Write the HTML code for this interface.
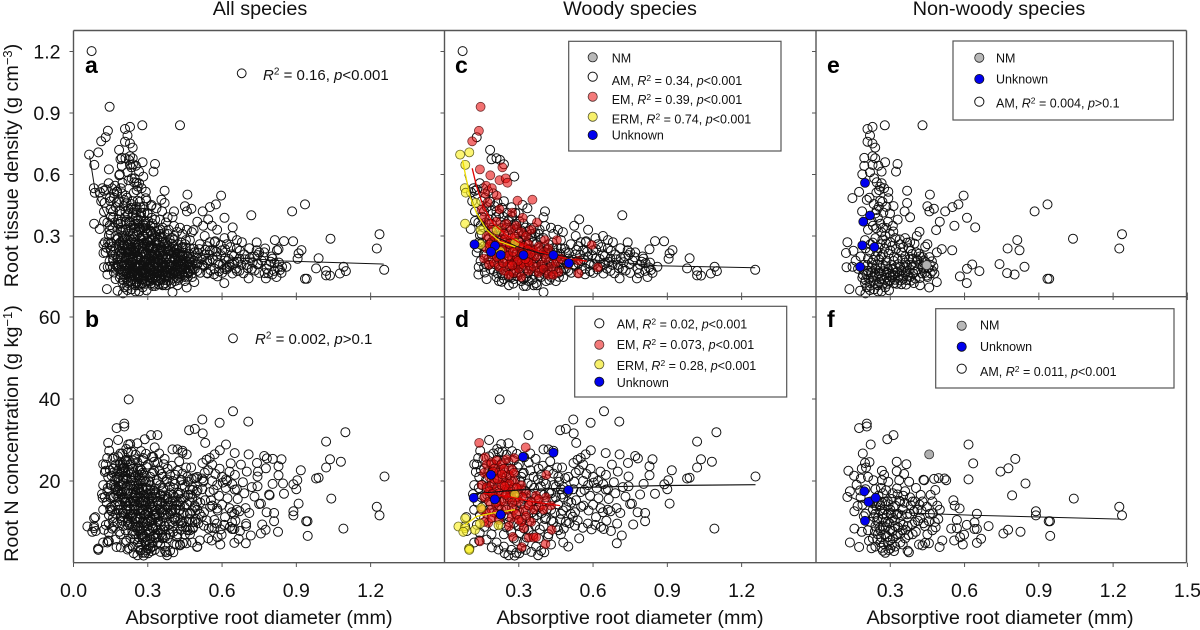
<!DOCTYPE html>
<html lang="en">
<head>
<meta charset="utf-8">
<title>Root traits versus absorptive root diameter</title>
<style>
html,body{margin:0;padding:0;background:#fff;width:1200px;height:630px;overflow:hidden}
svg{display:block}
text{font-family:"Liberation Sans",Arial,sans-serif;fill:#111}
.tick{font-size:19.5px}
.axis{font-size:19.8px}
.letter{font-size:23px;font-weight:bold;fill:#000}
.lg{font-size:12.5px}
.an{font-size:15px}
.i{font-style:italic}
</style>
</head>
<body>
<svg id="chart" xmlns="http://www.w3.org/2000/svg" width="1200" height="630" viewBox="0 0 1200 630">
  <g id="marks"></g>
  <g id="axes"></g>

  <text class="axis" x="260" y="15" text-anchor="middle">All species</text>
  <text class="axis" x="630" y="15" text-anchor="middle">Woody species</text>
  <text class="axis" x="999" y="15" text-anchor="middle">Non-woody species</text>

  <text class="axis" x="259" y="624" text-anchor="middle">Absorptive root diameter (mm)</text>
  <text class="axis" x="630" y="624" text-anchor="middle">Absorptive root diameter (mm)</text>
  <text class="axis" x="1000" y="624" text-anchor="middle">Absorptive root diameter (mm)</text>

  <text class="axis" transform="translate(18,165.5) rotate(-90)" text-anchor="middle">Root tissue density (g cm<tspan dy="-6" font-size="13">−3</tspan><tspan dy="6">)</tspan></text>
  <text class="axis" transform="translate(18,433.5) rotate(-90)" text-anchor="middle">Root N concentration (g kg<tspan dy="-6" font-size="13">−1</tspan><tspan dy="6">)</tspan></text>

  <text class="letter" x="85" y="73">a</text>
  <text class="letter" x="85" y="327">b</text>
  <text class="letter" x="455" y="73">c</text>
  <text class="letter" x="455" y="327">d</text>
  <text class="letter" x="827" y="73">e</text>
  <text class="letter" x="827" y="327">f</text>

  <g>
    <circle cx="241.7" cy="73.3" r="4.4" fill="none" stroke="#111" stroke-width="1"/>
    <text class="an" x="263" y="80"><tspan class="i">R</tspan><tspan dy="-5.5" font-size="10">2</tspan><tspan dy="5.5"> = 0.16, </tspan><tspan class="i">p</tspan>&lt;0.001</text>
  </g>
  <g>
    <circle cx="233" cy="338.3" r="4.4" fill="none" stroke="#111" stroke-width="1"/>
    <text class="an" x="255" y="344"><tspan class="i">R</tspan><tspan dy="-5.5" font-size="10">2</tspan><tspan dy="5.5"> = 0.002, </tspan><tspan class="i">p</tspan>&gt;0.1</text>
  </g>

  <g>
    <rect x="568.7" y="41.3" width="212.3" height="109.7" fill="#fff" stroke="#555" stroke-width="1.2"/>
    <circle cx="592.7" cy="57.3" r="4.6" fill="#b8b8b8" stroke="#222" stroke-width="0.8"/>
    <text class="lg" x="611.7" y="62.5">NM</text>
    <circle cx="592.7" cy="76.7" r="4.6" fill="#fff" stroke="#111" stroke-width="1"/>
    <text class="lg" x="611.7" y="85">AM, <tspan class="i">R</tspan><tspan dy="-4" font-size="8.5">2</tspan><tspan dy="4"> = 0.34, </tspan><tspan class="i">p</tspan>&lt;0.001</text>
    <circle cx="592.7" cy="96.7" r="4.6" fill="#f47a7a" stroke="#533" stroke-width="0.8"/>
    <text class="lg" x="611.7" y="104">EM, <tspan class="i">R</tspan><tspan dy="-4" font-size="8.5">2</tspan><tspan dy="4"> = 0.39, </tspan><tspan class="i">p</tspan>&lt;0.001</text>
    <circle cx="592.7" cy="116.7" r="4.6" fill="#f7f06a" stroke="#553" stroke-width="0.8"/>
    <text class="lg" x="611.7" y="123.5">ERM, <tspan class="i">R</tspan><tspan dy="-4" font-size="8.5">2</tspan><tspan dy="4"> = 0.74, </tspan><tspan class="i">p</tspan>&lt;0.001</text>
    <circle cx="592.7" cy="135" r="4.6" fill="#0000ee" stroke="#111" stroke-width="0.8"/>
    <text class="lg" x="611.7" y="139.5">Unknown</text>
  </g>

  <g>
    <rect x="953" y="41" width="220.3" height="79" fill="#fff" stroke="#555" stroke-width="1.2"/>
    <circle cx="979.3" cy="57.7" r="4.6" fill="#b8b8b8" stroke="#222" stroke-width="0.8"/>
    <text class="lg" x="996" y="62.5">NM</text>
    <circle cx="979.3" cy="79" r="4.6" fill="#0000ee" stroke="#111" stroke-width="0.8"/>
    <text class="lg" x="996" y="83.5">Unknown</text>
    <circle cx="979.3" cy="101.7" r="4.6" fill="#fff" stroke="#111" stroke-width="1"/>
    <text class="lg" x="996" y="107.5">AM, <tspan class="i">R</tspan><tspan dy="-4" font-size="8.5">2</tspan><tspan dy="4"> = 0.004, </tspan><tspan class="i">p</tspan>&gt;0.1</text>
  </g>

  <g>
    <rect x="574.7" y="306.3" width="212" height="90.7" fill="#fff" stroke="#555" stroke-width="1.2"/>
    <circle cx="599.3" cy="323.3" r="4.6" fill="#fff" stroke="#111" stroke-width="1"/>
    <text class="lg" x="616.7" y="328.5">AM, <tspan class="i">R</tspan><tspan dy="-4" font-size="8.5">2</tspan><tspan dy="4"> = 0.02, </tspan><tspan class="i">p</tspan>&lt;0.001</text>
    <circle cx="599.3" cy="344.7" r="4.6" fill="#f47a7a" stroke="#533" stroke-width="0.8"/>
    <text class="lg" x="616.7" y="349">EM, <tspan class="i">R</tspan><tspan dy="-4" font-size="8.5">2</tspan><tspan dy="4"> = 0.073, </tspan><tspan class="i">p</tspan>&lt;0.001</text>
    <circle cx="599.3" cy="364.3" r="4.6" fill="#f7f06a" stroke="#553" stroke-width="0.8"/>
    <text class="lg" x="616.7" y="370">ERM, <tspan class="i">R</tspan><tspan dy="-4" font-size="8.5">2</tspan><tspan dy="4"> = 0.28, </tspan><tspan class="i">p</tspan>&lt;0.001</text>
    <circle cx="599.3" cy="381.7" r="4.6" fill="#0000ee" stroke="#111" stroke-width="0.8"/>
    <text class="lg" x="616.7" y="387">Unknown</text>
  </g>

  <g>
    <rect x="935.7" y="308.7" width="238.3" height="79.3" fill="#fff" stroke="#555" stroke-width="1.2"/>
    <circle cx="961.7" cy="325.7" r="4.6" fill="#b8b8b8" stroke="#222" stroke-width="0.8"/>
    <text class="lg" x="980" y="329.5">NM</text>
    <circle cx="961.7" cy="346.7" r="4.6" fill="#0000ee" stroke="#111" stroke-width="0.8"/>
    <text class="lg" x="980" y="351">Unknown</text>
    <circle cx="961.7" cy="368.7" r="4.6" fill="#fff" stroke="#111" stroke-width="1"/>
    <text class="lg" x="980" y="376">AM, <tspan class="i">R</tspan><tspan dy="-4" font-size="8.5">2</tspan><tspan dy="4"> = 0.011, </tspan><tspan class="i">p</tspan>&lt;0.001</text>
  </g>
</svg>

<script>
// Tick labels
const xTickLabelsLeft = ["0.0","0.3","0.6","0.9","1.2"];
const xTickLabelsMiddle = ["0.3","0.6","0.9","1.2"];
const xTickLabelsRight = ["0.3","0.6","0.9","1.2","1.5"];
const densityTicks = ["0.3","0.6","0.9","1.2"];
const nitrogenTicks = ["20","40","60"];

// Root tissue density (diameter mm, g cm-3)
const woodyAmDensity = [[.073,1.202],[.13,.782],[.184,.72],[.19,.674],[.21,.679],[.224,.671],[.24,.65],[.282,.59],[.117,.533],[.123,.521],[.315,.451],[.335,.435],[.406,.42],[.4,.391],[.544,.381],[.524,.35],[.718,.401],[.123,.373],[.123,.419],[.106,.334],[.406,.349],[.43,.34],[.458,.33],[.478,.319],[.64,.3],[.74,.269],[.572,.274],[.85,.275],[.887,.274],[.828,.235],[.921,.231],[.909,.215],[.99,.191],[.905,.189],[1.255,.135],[1.091,.15],[1.1,.129],[1.076,.117],[1.02,.13],[1.02,.108],[1.036,.107],[.98,.142],[.86,.15],[.834,.134],[.797,.174],[.804,.19],[.75,.219],[.743,.207],[.777,.093],[.707,.093],[.642,.117],[.137,.112],[.17,.09],[.231,.077],[.278,.068],[.32,.056],[.33,.056],[.373,.06],[.4,.026],
[.46,.2],[.47,.24],[.48,.17],[.49,.22],[.5,.13],[.5,.19],[.51,.26],[.52,.16],[.53,.21],[.54,.12],[.54,.25],[.55,.18],[.56,.23],[.57,.14],[.57,.27],[.58,.2],[.59,.16],[.6,.23],[.6,.12],[.61,.19],[.62,.26],[.63,.15],[.64,.21],[.65,.17],[.66,.24],[.67,.13],[.67,.19],[.68,.27],[.69,.21],[.7,.16],[.71,.24],[.72,.14],[.73,.2],[.74,.23],[.75,.12],[.76,.18],[.77,.22],[.78,.14],[.79,.16],[.8,.2],[.81,.13],[.82,.1],[.83,.17],[.84,.12],
[.15,.31],[.16,.25],[.17,.21],[.18,.29],[.18,.16],[.19,.36],[.19,.19],[.2,.13],[.2,.27],[.21,.1],[.21,.22],[.22,.32],[.22,.16],[.23,.12],[.23,.26],[.24,.09],[.24,.19],[.25,.15],[.25,.34],[.26,.1],[.26,.23],[.27,.13],[.27,.29],[.28,.17],[.28,.09],[.29,.21],[.29,.12],[.3,.15],[.3,.31],[.31,.08],[.31,.19],[.32,.24],[.32,.13],[.33,.1],[.33,.17],[.34,.28],[.34,.08],[.35,.14],[.35,.21],[.36,.11],[.36,.34],[.37,.17],[.37,.07],[.38,.24],[.38,.13],[.39,.1],[.39,.19],[.4,.15],[.4,.29],[.41,.08],[.41,.21],[.42,.13],[.42,.26],[.43,.1],[.43,.18],[.44,.24],[.44,.14],[.45,.08],[.45,.19],[.46,.12],[.47,.16],[.48,.1],[.49,.14],[.36,.27],[.38,.31],[.33,.32],[.29,.36],[.26,.38],[.31,.28],[.24,.31],[.2,.33],[.18,.38],[.16,.42],[.21,.42],[.27,.44],[.24,.47],[.3,.41],[.35,.38],[.44,.31],[.47,.28],[.53,.3],[.58,.33],[.55,.27],[.61,.29],[.66,.28],[.15,.47],[.14,.27],[.13,.22],[.16,.15],[.22,.22],[.26,.2],[.3,.25],[.34,.2],[.28,.13],[.32,.09],[.36,.06],[.26,.06],[.22,.08],[.24,.23],[.19,.27],[.35,.31],[.29,.17],[.41,.12],[.39,.23],[.43,.22]];

const woodyAmDensityCore = [[.163,.122],[.174,.283],[.177,.187],[.183,.233],[.186,.137],[.193,.318],[.196,.212],[.204,.162],[.207,.255],[.213,.298],[.214,.118],[.218,.187],[.226,.139],[.228,.232],[.231,.284],[.234,.172],[.237,.108],[.243,.214],[.246,.267],[.248,.132],[.253,.186],[.257,.308],[.262,.152],[.264,.243],[.268,.097],[.272,.199],[.275,.262],[.278,.118],[.283,.224],[.287,.157],[.289,.328],[.293,.103],[.296,.186],[.298,.278],[.303,.123],[.306,.216],[.309,.164],[.313,.254],[.317,.093],[.319,.307],[.323,.176],[.327,.143],[.329,.223],[.334,.266],[.337,.117],[.341,.188],[.344,.154],[.348,.293],[.352,.236],[.354,.087],[.358,.167],[.362,.203],[.366,.128],[.369,.259],[.373,.148],[.377,.192],[.382,.106],[.385,.226],[.388,.283],[.392,.137],[.396,.171],[.402,.247],[.404,.112],[.408,.197],[.413,.156],[.416,.232],[.421,.174],[.424,.086],[.428,.213],[.432,.127],[.436,.268],[.441,.166],[.445,.219],[.449,.137],[.454,.243],[.458,.173],[.462,.101],[.466,.213],[.471,.128],[.476,.187],[.482,.141],[.486,.238],[.494,.167],[.503,.216],[.512,.121],[.518,.184],[.527,.153],[.533,.232],[.541,.167],[.548,.209],[.553,.134],[.562,.186],[.568,.113],[.576,.223],[.583,.167],[.588,.128],[.596,.207],[.604,.161],[.612,.236],[.618,.137],[.627,.188],[.634,.246],[.642,.163],[.648,.202],[.656,.141],[.663,.174],[.672,.228],[.678,.159],[.686,.118],[.692,.186],[.704,.143],[.712,.192],[.723,.172],[.732,.131],[.746,.163],[.768,.196],[.786,.118],[.812,.168],[.826,.147],
[.107,.513],[.112,.47],[.131,.527],[.142,.557],[.156,.532],[.163,.487],[.171,.441],[.176,.518],[.184,.467],[.189,.423],[.197,.508],[.202,.446],[.208,.392],[.214,.463],[.221,.407],[.227,.368],[.232,.437],[.238,.393],[.244,.357],[.252,.414],[.258,.372],[.266,.341],[.274,.393],[.281,.357],[.286,.413],[.294,.338],[.302,.372],[.311,.327],[.318,.361],[.326,.341],[.342,.327],[.353,.297],[.367,.314],[.384,.331],[.137,.366],[.147,.352],[.151,.393],[.158,.341],[.166,.366],[.143,.304],[.152,.268],[.134,.243],[.159,.208],[.146,.178],[.138,.149],[.168,.161]];

const woodyEmDensity = [[.146,.93],[.139,.813],[.112,.762],[.143,.625],[.234,.635],[.185,.596],[.222,.572],[.247,.581],[.254,.56],[.168,.545],[.191,.533],[.164,.508],[.211,.497],[.295,.472],[.355,.477],[.175,.464],[.222,.43],[.273,.414],[.316,.389],[.373,.366],[.595,.256],[.619,.147],[.541,.117],[.46,.125],[.406,.28],[.454,.28],
[.15,.43],[.16,.39],[.18,.36],[.19,.33],[.21,.37],[.23,.34],[.25,.36],[.27,.33],[.29,.35],[.31,.32],[.33,.3],[.35,.33],[.17,.3],[.19,.27],[.2,.3],[.22,.28],[.24,.31],[.25,.26],[.27,.29],[.28,.25],[.3,.27],[.32,.25],[.34,.26],[.36,.23],[.38,.25],[.4,.22],[.42,.24],[.44,.2],[.17,.24],[.19,.21],[.21,.23],[.23,.2],[.25,.22],[.27,.18],[.29,.2],[.31,.17],[.33,.21],[.35,.18],[.37,.2],[.39,.16],[.41,.19],[.43,.15],[.45,.17],[.47,.19],[.5,.16],[.54,.18],[.16,.19],[.18,.16],[.2,.17],[.22,.15],[.24,.13],[.26,.16],[.28,.12],[.3,.14],[.32,.16],[.34,.13],[.36,.15],[.38,.12],[.4,.14],[.42,.11],[.26,.11],[.31,.1],[.34,.17],[.44,.11],
[.243,.283],[.262,.262],[.283,.297],[.304,.243],[.336,.234],[.218,.256],[.233,.232],[.258,.204],[.277,.223],[.297,.178],[.314,.214],[.327,.187],[.347,.214],[.273,.156],[.237,.168],[.213,.197],[.182,.258]];

const woodyErmDensity = [[.063,.697],[.1,.708],[.084,.647],[.082,.533],[.086,.511],[.126,.462],[.083,.36],[.146,.329],[.211,.329],[.146,.259],[.285,.267],[.225,.226]];
const woodyUnknownDensity = [[.121,.259],[.204,.252],[.188,.223],[.227,.208],[.319,.207],[.44,.207],[.502,.168]];

const nonWoodyAmDensity = [[.278,.84],[.43,.84],[.208,.822],[.228,.832],[.218,.79],[.208,.76],[.228,.751],[.239,.731],[.195,.681],[.228,.689],[.239,.679],[.279,.66],[.329,.651],[.195,.642],[.228,.647],[.252,.643],[.218,.611],[.265,.614],[.323,.614],[.187,.601],[.235,.581],[.245,.562],[.265,.557],[.259,.541],[.275,.533],[.255,.524],[.292,.516],[.368,.521],[.46,.502],[.596,.497],[.147,.485],[.174,.515],[.216,.487],[.205,.476],[.259,.472],[.292,.484],[.313,.446],[.368,.461],[.45,.445],[.575,.454],[.551,.441],[.522,.42],[.476,.433],[.458,.42],[.358,.42],[.186,.42],[.245,.427],[.272,.414],[.299,.41],[.38,.391],[.61,.389],[.5,.37],[.559,.35],[.643,.342],[.485,.329],[.935,.454],[.883,.42],[1.236,.309],[1.038,.287],[.813,.28],[.774,.239],[.822,.23],[1.225,.239],[.55,.23],[.508,.236],[.488,.22],[.45,.26],[.441,.248],[.418,.321],[.407,.3],[.127,.27],[.198,.28],[.121,.217],[.151,.228],[.123,.148],[.148,.15],[.741,.163],[.842,.15],[.631,.161],[.61,.14],[.66,.129],[.581,.103],[.609,.07],[.772,.119],[.802,.112],[.935,.091],[.942,.091],[.488,.075],[.457,.049],[.42,.06],[.135,.041],[.178,.033],[.218,.036],
[.19,.11],[.2,.085],[.21,.13],[.22,.07],[.23,.1],[.24,.14],[.25,.06],[.255,.115],[.26,.09],[.27,.16],[.28,.05],[.285,.12],[.29,.08],[.3,.105],[.31,.14],[.315,.07],[.32,.12],[.33,.095],[.34,.15],[.345,.065],[.35,.11],[.36,.17],[.365,.085],[.37,.13],[.38,.1],[.385,.16],[.395,.07],[.4,.125],[.41,.18],[.42,.095],[.43,.15],[.44,.12],[.45,.1],[.46,.16],[.47,.13],[.225,.17],[.24,.2],[.255,.185],[.27,.21],[.285,.18],[.3,.23],[.315,.2],[.33,.19],[.345,.22],[.36,.2],[.375,.24],[.39,.19],[.405,.22],[.42,.2],[.435,.18],[.21,.19],[.195,.16],[.18,.2],[.17,.14],[.16,.18],[.2,.24],[.22,.26],[.24,.29],[.26,.26],[.28,.3],[.3,.27],[.32,.29],[.34,.26],[.36,.29],[.38,.27],[.27,.34],[.29,.37],[.31,.35],[.33,.38],[.25,.39],[.23,.35],[.21,.33],[.24,.41],[.26,.36],[.205,.05],[.235,.04],[.265,.03],[.295,.035],[.25,.03],[.2,.02]];

const nonWoodyAmDensityCore = [[.187,.097],[.193,.132],[.198,.072],[.204,.113],[.208,.158],[.214,.092],[.217,.057],[.223,.123],[.226,.147],[.232,.082],[.236,.117],[.241,.068],[.243,.103],[.247,.162],[.252,.129],[.257,.077],[.261,.143],[.264,.108],[.268,.063],[.273,.128],[.276,.087],[.281,.152],[.284,.098],[.288,.067],[.292,.137],[.296,.117],[.299,.083],[.304,.158],[.307,.097],[.311,.112],[.314,.178],[.318,.087],[.322,.148],[.326,.067],[.329,.127],[.333,.162],[.337,.107],[.342,.083],[.346,.132],[.349,.187],[.353,.092],[.357,.147],[.361,.123],[.364,.063],[.368,.158],[.372,.107],[.376,.187],[.379,.137],[.383,.082],[.388,.212],[.392,.117],[.397,.157],[.402,.092],[.407,.186],[.412,.137],[.416,.213],[.422,.163],[.427,.118],[.431,.197],[.437,.142],[.442,.173],[.447,.107],[.453,.143],[.458,.197],[.463,.118],[.468,.176],[.474,.151],[.478,.117],[.232,.183],[.247,.223],[.263,.197],[.277,.238],[.293,.213],[.308,.251],[.323,.236],[.338,.283],[.352,.246],[.368,.268],[.383,.228],[.398,.263],[.218,.223],[.229,.268],[.253,.243],[.268,.283],[.283,.263],[.264,.318],[.283,.339],[.298,.312],[.312,.322],[.243,.338],[.225,.371],[.254,.443],[.244,.512],[.268,.467],[.284,.442],[.233,.456]];

// Root N concentration (diameter mm, g kg-1)
const woodyAmNitrogen = [[.223,39.9],[.18,30],[.144,27.4],[.229,29],[.258,29.2],[.339,31.2],[.52,35],[.467,32.4],[.49,32.7],[.522,31.6],[.532,29.3],[.59,34.2],[.644,37],[.706,34.5],[1.098,31.9],[1.02,29.6],[1.036,25.3],[1.08,24.7],[1.02,23.3],[1.256,21.1],[.98,20.6],[.99,20.8],[.918,22.6],[.904,20.2],[.888,19.2],[.9,18],[.85,16.9],[.909,14.5],[1.09,8.4],[.84,25.3],[.77,26.1],[.781,25.5],[.707,26.5],[.651,26.8],[.591,27.5],[.57,26.5],[.55,25.6],[.537,25.2],[.521,24.4],[.676,24],[.741,24.4],[.828,23.6],[.828,21.4],[.743,21.1],[.804,19.3],[.72,18.5],[.743,18.7],[.79,16.7],[.75,14.4],[.757,14.5],[.695,13.4],[.71,12.2],[.78,12.4],[.81,12.2],[.81,10.2],[.66,13],[.67,12.6],[.579,9.6],[.609,9.3],[.643,8.3],[.716,6.7],[.696,4.8],[.544,6],[.47,7],[.527,9.1],[.527,12.4],[.561,14],[.6,14.2],[.63,13.4],[.64,12.4],[.652,17.9],[.615,18.3],[.63,22.3],[.652,21.5],[.455,23.3],[.475,23.3],[.4,27.7],[.42,27.7],[.44,27.4],[.7,22.3],[.6,21],[.56,20],[.55,17.3],[.58,19],[.5,21],[.48,18.5],[.14,5.5],[.17,5.7],[.12,5],[.1,3.5],[.083,9],[.088,11.2],[.09,7.8],[.13,24],[.12,24.1],[.115,16.8],[.12,13],
[.12,19],[.14,21],[.16,23],[.18,26],[.2,24],[.22,27],[.24,25],[.26,23],[.28,25],[.3,24],[.32,22],[.34,24.5],[.36,21],[.38,23],[.4,20],[.42,22.5],[.44,19],[.46,21],[.48,16],[.5,15],[.52,18],[.15,16],[.17,18],[.19,20],[.21,15],[.23,19],[.25,17],[.27,20],[.29,14],[.31,18],[.33,16],[.35,19],[.37,14],[.39,17],[.41,15],[.43,13],[.45,16],[.47,12],[.49,10],[.51,12],[.16,11],[.18,13],[.2,9],[.22,11],[.24,7],[.26,10],[.28,6],[.3,9],[.32,5],[.34,8],[.36,11],[.38,6],[.4,9],[.42,7],[.44,10],[.46,8],[.48,5],[.5,4],[.27,3.2],[.29,2.5],[.31,3.5],[.37,4],[.39,3],[.43,4.5],[.24,4],[.21,5],[.19,7],[.23,13],[.27,16],[.33,11],[.37,13],[.41,11],[.25,21],[.31,21],[.35,15],[.39,21.5],[.43,17],[.47,18],[.53,22],[.56,24],[.59,23],[.62,20],[.66,18],[.69,17]];

const woodyAmNitrogenCore = [[.168,20.3],[.173,16.6],[.177,22.4],[.182,18.7],[.186,14.2],[.188,24.1],[.193,21.8],[.196,17.2],[.199,12.4],[.203,19.4],[.206,23.3],[.208,15.8],[.212,25.2],[.215,20.6],[.218,13.1],[.221,17.7],[.224,22.7],[.227,9.4],[.229,15.1],[.232,24.3],[.235,20.7],[.238,11.6],[.241,17.3],[.244,22.1],[.246,13.8],[.249,8.7],[.252,19.4],[.255,15.6],[.258,24.6],[.261,11.2],[.263,20.8],[.266,17.8],[.269,7.6],[.272,13.4],[.275,22.6],[.278,18.4],[.281,9.8],[.283,15.2],[.286,20.2],[.289,11.8],[.292,5.4],[.295,23.4],[.298,16.8],[.301,12.6],[.304,7.3],[.307,19.7],[.31,14.4],[.313,10.6],[.316,21.8],[.319,15.7],[.322,8.4],[.326,17.6],[.329,12.7],[.332,6.2],[.336,19.4],[.339,14.1],[.343,10.2],[.347,22.6],[.351,16.7],[.354,12.4],[.358,6.8],[.362,18.3],[.366,9.1],[.369,15.8],[.373,11.7],[.377,20.4],[.381,13.6],[.385,8.2],[.389,18.7],[.393,12.2],[.397,23.7],[.402,16.6],[.406,10.7],[.41,19.3],[.414,13.2],[.418,6.4],[.422,17.1],[.427,24.8],[.431,10.4],[.436,15.6],[.44,21.8],[.445,12.3],[.45,18.6],[.454,8.7],[.459,14.3],[.463,19.8],[.468,10.6],[.473,16.7],[.478,12.8],[.482,8.4],[.487,20.7],[.492,13.6],[.497,17.4],[.504,9.7],[.512,14.7],[.518,11.3],[.524,19.8],[.531,15.3],[.538,10.4],[.544,22.6],[.552,13.7],[.558,8.6],[.566,17.8],[.573,21.7],[.582,12.8],[.588,16.4],[.594,8.2],[.603,19.6],[.612,11.2],[.622,15.8],[.632,8.8],[.641,19.2],[.654,10.3],[.663,15.6],[.672,7.8],[.684,19.7],[.697,9.6],[.731,16.2],[.762,9.4],
[.134,14.7],[.138,18.3],[.143,11.7],[.147,22.6],[.151,19.1],[.154,13.7],[.158,25.4],[.161,8.8],[.164,16.3],[.131,9.3],[.142,7.4],[.127,22.2],[.136,25.6],[.197,26.7],[.213,27.8],[.234,27.2],[.251,26.4],[.273,27.3],[.293,26.6],[.322,25.8],[.346,26.7],[.368,25.4],[.191,3.8],[.218,3.3],[.243,2.4],[.258,1.9],[.283,1.8],[.302,2.4],[.328,3.2],[.351,2.7],[.378,1.9],[.403,2.6]];

const woodyEmNitrogen = [[.14,29.3],[.164,25.8],[.312,3.9],[.408,4.6],[.143,5.3],[.276,6.4],[.34,6.2],[.36,6.2],[.37,6.3],[.433,8.1],[.328,28.2],[.281,25.6],[.411,21.5],[.177,9.8],[.319,8.5],
[.15,19],[.17,24],[.19,24.5],[.21,25],[.23,24],[.25,25.3],[.27,23],[.16,22],[.18,21],[.2,23],[.22,22],[.24,20],[.26,21.5],[.28,20],[.3,18],[.17,18.5],[.19,19],[.21,18],[.23,19],[.25,18],[.27,17],[.29,16],[.31,19],[.33,17],[.35,15],[.37,16.5],[.39,14],[.41,16],[.43,14],[.16,16],[.18,15],[.2,16],[.22,14],[.24,15],[.26,16],[.28,13],[.3,15],[.32,13],[.34,14],[.36,13],[.38,15.5],[.4,13],[.15,13],[.17,12],[.19,13],[.21,12],[.23,12],[.25,13],[.27,11],[.29,12],[.31,10],[.33,11.5],[.35,10],[.16,10],[.19,11],[.22,10.5],[.26,9],[.3,10.5],[.24,23],[.2,20.5],[.28,22],[.26,18],[.22,17],[.18,17.5],
[.214,20.4],[.233,21.6],[.247,16.6],[.263,19.4],[.193,16.8],[.207,14.7],[.273,14.7],[.291,18.4],[.314,16.2],[.197,22.3],[.243,18.7]];

const woodyErmNitrogen = [[.056,8.9],[.083,10.9],[.083,8.5],[.076,7.6],[.123,8.1],[.143,9.6],[.099,3.5],[.1,3.2],[.218,9.2],[.148,13.4],[.284,16.7]];
const woodyUnknownNitrogen = [[.118,15.9],[.188,21.5],[.203,15.5],[.227,11.8],[.317,25.9],[.44,26.9],[.501,17.8]];

const nonWoodyAmNitrogen = [[.205,34],[.174,32.9],[.205,33.3],[.288,30.2],[.313,31.2],[.221,28.9],[.616,28.9],[.189,26.7],[.805,25.4],[.216,24.6],[.198,24.4],[.326,24.7],[.365,24.1],[.635,24.3],[.131,22.5],[.185,23],[.202,23.3],[.777,23.1],[.745,22.3],[.266,22.5],[.326,22.4],[.275,21.5],[.356,21.7],[.154,21.3],[.181,20.6],[.434,20.3],[.437,20.2],[.477,20.5],[.495,20.7],[.519,20.6],[.526,20.2],[.616,20.4],[.336,20.2],[.376,19.8],[.846,19.4],[.266,20.2],[.232,20.2],[.292,19.8],[.404,18.3],[.482,17.8],[.137,17.5],[.164,19.1],[.329,16.7],[.423,16.6],[.463,16.6],[.792,16.5],[1.041,15.7],[.555,15.3],[1.225,13.7],[1.236,11.6],[.888,12.6],[.888,11.6],[.94,10.2],[.945,10.2],[.946,6.6],[.65,12],[.56,14],[.58,13.3],[.569,10.5],[.64,9.9],[.697,9],[.609,9.3],[.569,8.5],[.546,8.4],[.64,8.3],[.65,8.3],[.776,8.1],[.757,7.2],[.826,7.6],[.667,5.9],[.65,4.9],[.598,6.9],[.582,6.3],[.558,5.5],[.593,4.5],[.51,5.5],[.499,3.9],[.456,4.8],[.441,4.9],[.43,4.3],[.416,4.5],[.137,5],[.174,3.9],[.155,8.4],[.185,7.6],[.127,16.1],[.155,12.6],
[.2,12],[.21,8],[.22,10],[.23,6],[.23,13],[.24,9],[.24,4],[.25,11],[.25,7],[.26,14],[.26,5],[.27,9],[.27,3],[.27,12],[.28,7],[.28,15],[.28,2.5],[.29,10],[.29,5],[.3,13],[.3,8],[.3,3.5],[.31,11],[.31,6],[.32,14],[.32,9],[.33,7],[.33,12],[.34,5],[.34,10],[.35,8],[.35,13],[.36,6],[.37,3],[.375,2.6],[.37,9],[.38,12],[.39,7],[.39,15],[.4,10],[.41,13],[.42,11],[.43,15],[.44,9],[.46,12],[.47,15],[.48,10],[.49,14],[.5,13],[.45,7],[.47,8],[.22,15],[.24,18],[.25,15],[.27,17],[.29,15],[.31,17],[.34,15],[.36,17.5],[.38,16],[.4,15],[.2,18],[.18,16],[.21,21],[.24,12],[.26,8],[.28,10],[.3,5.5],[.32,4],[.35,4.5]];

const nonWoodyAmNitrogenCore = [[.228,14.6],[.234,11.2],[.238,7.7],[.243,13.8],[.247,10.3],[.252,16.4],[.256,8.6],[.259,12.7],[.263,6.3],[.267,14.7],[.271,10.8],[.274,4.6],[.278,13.1],[.282,8.7],[.286,11.7],[.289,6.4],[.293,14.3],[.297,9.7],[.302,12.1],[.306,4.4],[.309,7.8],[.313,13.6],[.318,10.4],[.322,6.6],[.326,11.8],[.331,8.7],[.336,15.2],[.341,7.2],[.346,11.6],[.352,9.3],[.358,14.7],[.362,8.1],[.368,11.9],[.374,6.8],[.383,14.1],[.388,9.4],[.396,12.6],[.403,7.6],[.412,10.3],[.418,14.2],[.426,12.8],[.434,9.7],[.448,13.7],[.456,10.2],[.472,12.1],[.483,8.7],[.494,10.7],[.188,14.2],[.193,11.4],[.178,17.7],[.168,13.9],[.262,18.3],[.283,17.7],[.305,15.6],[.327,18.2],[.352,16.4],[.214,5.4],[.224,3.6],[.247,5.7],[.265,3.7],[.293,3.2],[.315,2.9]];
const nonWoodyUnknownNitrogen = [[.195,17.5],[.212,14.9],[.241,15.9],[.198,10.3]];
const nonWoodyNmNitrogen = [[.457,26.5]];
const nonWoodyUnknownDensity = [[.198,.559],[.218,.4],[.191,.37],[.187,.254],[.236,.246],[.178,.15]];
const nonWoodyNmDensity = [[.447,.158]];

// Fitted trend lines
const trendDensityAll = [[.065,.69],[.09,.5],[.135,.39],[.2,.31],[.3,.26],[.45,.22],[.65,.195],[.85,.178],[1.253,.163]];
const trendDensityAm = [[.082,.6],[.12,.44],[.15,.37],[.2,.3],[.29,.25],[.386,.215],[.63,.18],[.86,.155],[1.255,.145]];
const trendDensityEm = [[.112,.63],[.13,.54],[.157,.443],[.197,.36],[.25,.305],[.32,.255],[.386,.223],[.494,.19],[.575,.177]];
const trendDensityErm = [[.073,.67],[.083,.607],[.103,.493],[.13,.41],[.17,.33],[.224,.272],[.285,.247]];
const trendNitrogenAm = [[.12,16.9],[.3,17.8],[.6,18.5],[.9,18.9],[1.256,19.1]];
const trendNitrogenEm = [[.157,17],[.25,16.3],[.36,14.9],[.467,14]];
const trendNitrogenErm = [[.083,9.3],[.13,11.4],[.197,12.2],[.285,13]];
const trendNitrogenNonWoody = [[.131,16.3],[.245,13.4],[.38,12.2],[.65,11.6],[1.23,10.7]];

const SVG_NS = "http://www.w3.org/2000/svg";
const marks = document.getElementById("marks");
const axes = document.getElementById("axes");

const columnOrigins = [73.5, 444.5, 816];
const pxPerMm = 247.6;
const xScale = (col, v) => columnOrigins[col] + v * pxPerMm;
const yDensity = v => 297.5 - v * 205;
const yNitrogen = v => 563 - v * 4.1;

const styles = {
  ring: {fill: "none", stroke: "#111", sw: 1},
  em: {fill: "rgba(232,10,10,.58)", stroke: "rgba(70,0,0,.75)", sw: 0.8},
  erm: {fill: "rgba(250,240,40,.65)", stroke: "rgba(70,70,0,.8)", sw: 0.8},
  unknown: {fill: "#0000ee", stroke: "#111", sw: 0.8},
  nm: {fill: "#b0b0b0", stroke: "#333", sw: 0.8}
};

function drawPoints(points, col, y, style, name) {
  const g = document.createElementNS(SVG_NS, "g");
  
  
  points.forEach(p => {
    const c = document.createElementNS(SVG_NS, "circle");
    
    
    c.setAttribute("cx", xScale(col, p[0]).toFixed(1));
    c.setAttribute("cy", y(p[1]).toFixed(1));
    c.setAttribute("r", 4.5);
    c.setAttribute("fill", style.fill);
    c.setAttribute("stroke", style.stroke);
    c.setAttribute("stroke-width", style.sw);
    g.appendChild(c);
  });
  marks.appendChild(g);
}

function drawTrend(points, col, y, colour, width, name) {
  const l = document.createElementNS(SVG_NS, "polyline");
  
  
  l.setAttribute("points", points.map(p => xScale(col, p[0]).toFixed(1) + "," + y(p[1]).toFixed(1)).join(" "));
  l.setAttribute("fill", "none");
  l.setAttribute("stroke", colour);
  l.setAttribute("stroke-width", width);
  marks.appendChild(l);
}

function addLine(x1, y1, x2, y2, width) {
  const l = document.createElementNS(SVG_NS, "line");
  
  
  l.setAttribute("x1", x1);
  l.setAttribute("y1", y1);
  l.setAttribute("x2", x2);
  l.setAttribute("y2", y2);
  l.setAttribute("stroke", "#555");
  l.setAttribute("stroke-width", width);
  axes.appendChild(l);
}

function addTickLabel(x, y, str, anchor) {
  const t = document.createElementNS(SVG_NS, "text");
  
  
  t.setAttribute("class", "tick");
  t.setAttribute("x", x);
  t.setAttribute("y", y);
  t.setAttribute("text-anchor", anchor);
  t.textContent = str;
  axes.appendChild(t);
}

// Panel a: all species, density
drawPoints(woodyAmDensity, 0, yDensity, styles.ring, "panel-a-woody-points");
drawPoints(woodyAmDensityCore, 0, yDensity, styles.ring, "panel-a-woody-core-points");
drawPoints(woodyEmDensity, 0, yDensity, styles.ring, "panel-a-em-points");
drawPoints(woodyErmDensity, 0, yDensity, styles.ring, "panel-a-erm-points");
drawPoints(woodyUnknownDensity, 0, yDensity, styles.ring, "panel-a-unknown-points");
drawPoints(nonWoodyAmDensity, 0, yDensity, styles.ring, "panel-a-non-woody-points");
drawPoints(nonWoodyAmDensityCore, 0, yDensity, styles.ring, "panel-a-non-woody-core-points");
drawPoints(nonWoodyUnknownDensity, 0, yDensity, styles.ring, "panel-a-non-woody-unknown-points");
drawPoints(nonWoodyNmDensity, 0, yDensity, styles.ring, "panel-a-nm-points");
drawTrend(trendDensityAll, 0, yDensity, "#111", 1, "panel-a-trend");

// Panel b: all species, nitrogen
drawPoints(woodyAmNitrogen, 0, yNitrogen, styles.ring, "panel-b-woody-points");
drawPoints(woodyAmNitrogenCore, 0, yNitrogen, styles.ring, "panel-b-woody-core-points");
drawPoints(woodyEmNitrogen, 0, yNitrogen, styles.ring, "panel-b-em-points");
drawPoints(woodyErmNitrogen, 0, yNitrogen, styles.ring, "panel-b-erm-points");
drawPoints(woodyUnknownNitrogen, 0, yNitrogen, styles.ring, "panel-b-unknown-points");
drawPoints(nonWoodyAmNitrogen, 0, yNitrogen, styles.ring, "panel-b-non-woody-points");
drawPoints(nonWoodyAmNitrogenCore, 0, yNitrogen, styles.ring, "panel-b-non-woody-core-points");
drawPoints(nonWoodyUnknownNitrogen, 0, yNitrogen, styles.ring, "panel-b-non-woody-unknown-points");
drawPoints(nonWoodyNmNitrogen, 0, yNitrogen, styles.ring, "panel-b-nm-points");

// Panel c: woody, density
drawPoints(woodyAmDensity, 1, yDensity, styles.ring, "panel-c-am-points");
drawPoints(woodyAmDensityCore, 1, yDensity, styles.ring, "panel-c-am-core-points");
drawPoints(woodyEmDensity, 1, yDensity, styles.em, "panel-c-em-points");
drawPoints(woodyErmDensity, 1, yDensity, styles.erm, "panel-c-erm-points");
drawTrend(trendDensityAm, 1, yDensity, "#111", 1, "panel-c-am-trend");
drawTrend(trendDensityEm, 1, yDensity, "#e00000", 1.3, "panel-c-em-trend");
drawTrend(trendDensityErm, 1, yDensity, "#eedd00", 1.3, "panel-c-erm-trend");
drawPoints(woodyUnknownDensity, 1, yDensity, styles.unknown, "panel-c-unknown-points");

// Panel d: woody, nitrogen
drawPoints(woodyAmNitrogen, 1, yNitrogen, styles.ring, "panel-d-am-points");
drawPoints(woodyAmNitrogenCore, 1, yNitrogen, styles.ring, "panel-d-am-core-points");
drawPoints(woodyEmNitrogen, 1, yNitrogen, styles.em, "panel-d-em-points");
drawPoints(woodyErmNitrogen, 1, yNitrogen, styles.erm, "panel-d-erm-points");
drawTrend(trendNitrogenAm, 1, yNitrogen, "#111", 1.2, "panel-d-am-trend");
drawTrend(trendNitrogenEm, 1, yNitrogen, "#e00000", 1.3, "panel-d-em-trend");
drawTrend(trendNitrogenErm, 1, yNitrogen, "#eedd00", 1.3, "panel-d-erm-trend");
drawPoints(woodyUnknownNitrogen, 1, yNitrogen, styles.unknown, "panel-d-unknown-points");

// Panel e: non-woody, density
drawPoints(nonWoodyAmDensity, 2, yDensity, styles.ring, "panel-e-am-points");
drawPoints(nonWoodyAmDensityCore, 2, yDensity, styles.ring, "panel-e-am-core-points");
drawPoints(nonWoodyNmDensity, 2, yDensity, styles.nm, "panel-e-nm-points");
drawPoints(nonWoodyUnknownDensity, 2, yDensity, styles.unknown, "panel-e-unknown-points");

// Panel f: non-woody, nitrogen
drawPoints(nonWoodyAmNitrogen, 2, yNitrogen, styles.ring, "panel-f-am-points");
drawPoints(nonWoodyAmNitrogenCore, 2, yNitrogen, styles.ring, "panel-f-am-core-points");
drawTrend(trendNitrogenNonWoody, 2, yNitrogen, "#111", 1, "panel-f-am-trend");
drawPoints(nonWoodyNmNitrogen, 2, yNitrogen, styles.nm, "panel-f-nm-points");
drawPoints(nonWoodyUnknownNitrogen, 2, yNitrogen, styles.unknown, "panel-f-unknown-points");

// Frames
addLine(73.5, 30.5, 1186.5, 30.5, 1.4);
addLine(73.5, 562.7, 1186.5, 562.7, 1.4);
addLine(73.5, 296.7, 1186.5, 296.7, 1.4);
addLine(73.5, 30.5, 73.5, 562.7, 1.4);
addLine(444.5, 30.5, 444.5, 562.7, 1.4);
addLine(816, 30.5, 816, 562.7, 1.4);
addLine(1186.5, 30.5, 1186.5, 562.7, 1.4);

// X ticks and labels
const xLabelSets = [xTickLabelsLeft, xTickLabelsMiddle, xTickLabelsRight];
xLabelSets.forEach((labels, col) => {
  labels.forEach(lab => {
    const x = xScale(col, parseFloat(lab));
    addLine(x, 296.7, x, 300, 1);
    addLine(x, 292.5, x, 296.7, 1);
    addLine(x, 562.7, x, 567, 1);
    addTickLabel(x, 597, lab, "middle");
  });
});

// Y ticks and labels
densityTicks.forEach(lab => {
  const y = yDensity(parseFloat(lab));
  addLine(69.5, y, 73.5, y, 1);
  addLine(440.5, y, 444.5, y, 1);
  addLine(812, y, 816, y, 1);
  addTickLabel(60.5, y + 7, lab, "end");
});
nitrogenTicks.forEach(lab => {
  const y = yNitrogen(parseFloat(lab));
  addLine(69.5, y, 73.5, y, 1);
  addLine(440.5, y, 444.5, y, 1);
  addLine(812, y, 816, y, 1);
  addTickLabel(60.5, y + 7, lab, "end");
});
</script>
</body>
</html>
